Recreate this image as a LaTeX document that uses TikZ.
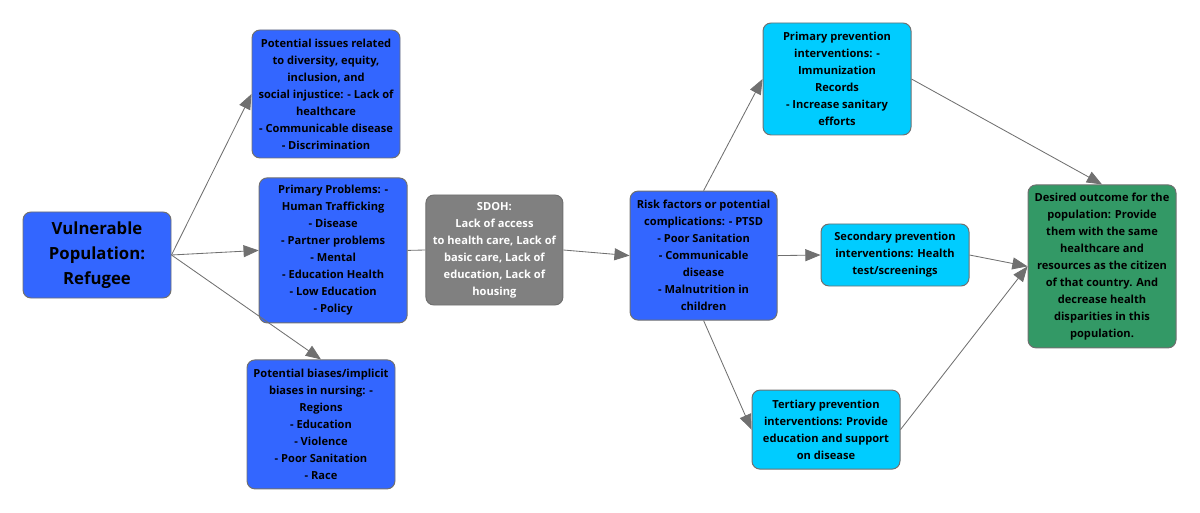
\documentclass[tikz,border=0pt]{standalone}
\usepackage{fontspec}
\setmainfont{Open Sans}
\usepackage{tikz}
\usetikzlibrary{arrows.meta}
\usepackage{xcolor}
\definecolor{popblue}{RGB}{51,102,255}
\definecolor{prevcyan}{RGB}{0,204,255}
\definecolor{sdohgray}{RGB}{128,128,128}
\definecolor{goalgreen}{RGB}{51,153,102}
\definecolor{edgegray}{RGB}{112,112,112}

\begin{document}
\begin{tikzpicture}[
    box/.style={draw=edgegray, line width=0.7pt, rounded corners=0.2cm, align=center,
      minimum width=3.7cm, inner sep=2pt, font=\fontsize{7.9}{12.1}\selectfont\bfseries},
    bluebox/.style={box, fill=popblue},
    cyanbox/.style={box, fill=prevcyan},
    link/.style={draw=edgegray, line width=0.6pt, -{Triangle[length=0.38cm,width=0.3cm]}}
  ]
  \useasboundingbox (0,0) rectangle (30,-12.825);

  \node[bluebox, minimum height=2.15cm, font=\fontsize{11.9}{17.8}\selectfont\bfseries] (pop) at (2.425,-6.375) {Vulnerable\\Population:\\Refugee};

  \node[bluebox, minimum height=3.2cm] (issues) at (8.15,-2.35) {Potential issues related\\to diversity, equity,\\inclusion, and\\social injustice: - Lack of\\healthcare\\- Communicable disease\\- Discrimination};
  \node[bluebox, minimum height=3.625cm] (probs) at (8.33,-6.26) {Primary Problems: -\\Human Trafficking\\- Disease\\- Partner problems\\- Mental\\- Education Health\\- Low Education\\- Policy};
  \node[bluebox, minimum height=3.225cm] (biases) at (8.025,-10.61) {Potential biases/implicit\\biases in nursing: -\\Regions\\- Education\\- Violence\\- Poor Sanitation\\- Race};

  \node[box, fill=sdohgray, text=white, minimum width=3.425cm, minimum height=2.75cm] (sdoh) at (12.36,-6.25) {SDOH:\\Lack of access\\to health care, Lack of\\basic care, Lack of\\education, Lack of\\housing};

  \node[bluebox, minimum width=3.675cm, minimum height=3.225cm] (risk) at (17.59,-6.39) {Risk factors or potential\\complications: - PTSD\\- Poor Sanitation\\- Communicable\\disease\\- Malnutrition in\\children};

  % Prevention levels
  \node[cyanbox, minimum height=2.8cm] (prim) at (20.925,-1.975) {Primary prevention\\interventions: -\\Immunization\\Records\\- Increase sanitary\\efforts};
  \node[cyanbox, minimum height=1.55cm] (sec) at (22.375,-6.375) {Secondary prevention\\interventions: Health\\test/screenings};
  \node[cyanbox, minimum height=1.975cm] (tert) at (20.65,-10.74) {Tertiary prevention\\interventions: Provide\\education and support\\on disease};

  \node[box, fill=goalgreen, minimum height=4.075cm] (goal) at (27.55,-6.66) {Desired outcome for the\\population: Provide\\them with the same\\healthcare and\\resources as the citizen\\of that country. And\\decrease health\\disparities in this\\population.};

  \draw[link] (pop.east) -- (issues.west);
  \draw[link] (pop.east) -- (probs.west);
  \draw[link] (pop.east) -- (biases.north);
  \draw[draw=edgegray, line width=0.6pt] (probs.east) -- (sdoh.west);
  \draw[link] (sdoh.east) -- (risk.west);
  \draw[link] (risk.north) -- (prim.west);
  \draw[link] (risk.east) -- (sec.west);
  \draw[link] (risk.south) -- (tert.west);
  \draw[link] (prim.east) -- (goal.north);
  \draw[link] (sec.east) -- (goal.west);
  \draw[link] (tert.east) -- (goal.west);
\end{tikzpicture}
\end{document}
